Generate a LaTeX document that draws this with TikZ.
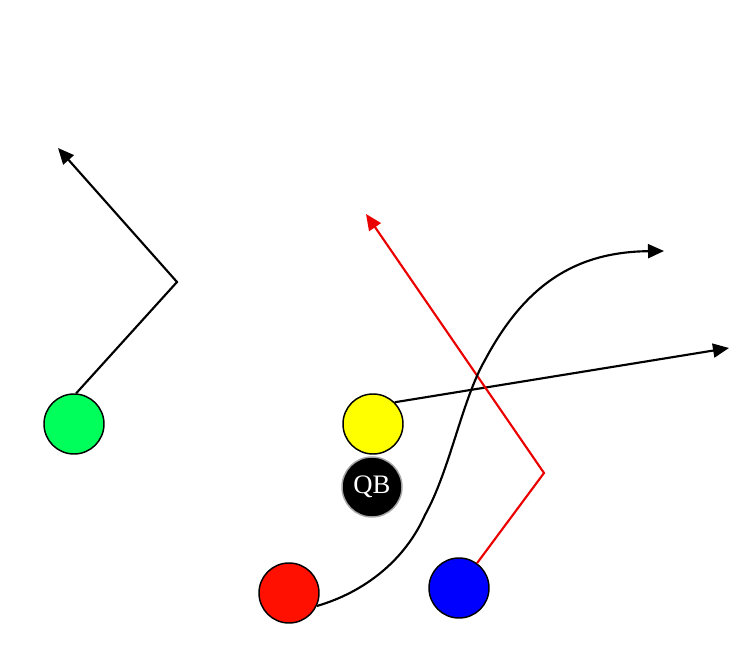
\documentclass[tikz,border=0pt]{standalone}
\usepackage{fontspec}
\newfontfamily\qbfont{Liberation Serif}
\usetikzlibrary{arrows.meta}
\definecolor{pgreen}{RGB}{0,255,90}
\definecolor{pyellow}{RGB}{255,255,0}
\definecolor{pred}{RGB}{255,16,0}
\definecolor{pblue}{RGB}{0,0,255}
\definecolor{routered}{RGB}{235,0,0}
\begin{document}
\begin{tikzpicture}[x=0.75pt,y=-0.75pt,
  player/.style={circle,draw=black,line width=1.1pt,minimum size=45pt,inner sep=0pt},
  route/.style={line width=1.6pt,-{Triangle[length=12pt,width=10.5pt]}}]
\path[use as bounding box] (0,0) rectangle (750,655);
\node[player,fill=pyellow] (yellow) at (373,424) {};
\node[player,fill=pgreen] (green) at (74,424) {};
\node[player,fill=black,draw=gray!70] (qb) at (372,487) {};
\node[text=white,inner sep=0pt] (qbtext) at (qb.center) {\qbfont\fontsize{20}{20}\selectfont QB};
\node[player,fill=pred] (red) at (289,593) {};
\node[player,fill=pblue] (blue) at (459,588) {};
\coordinate (gcut) at (177,282);
\coordinate (gend) at (58,148);
\coordinate (yend) at (729,348);
\coordinate (bcut) at (544,473);
\coordinate (bend) at (366,214);
\coordinate (c1) at (425,515);
\coordinate (c2) at (485,360);
\coordinate (rend) at (664,251);
\draw[route] (green.86) -- (gcut) -- (gend);
\draw[route] (yellow.45) -- (yend);
\draw[route,color=routered] (blue.54) -- (bcut) -- (bend);
\draw[route] (red.-25) .. controls (365,592) and (405,560) .. (c1)
  .. controls (450,470) and (462,400) .. (c2)
  .. controls (525,285) and (575,252) .. (rend);
\end{tikzpicture}
\end{document}
